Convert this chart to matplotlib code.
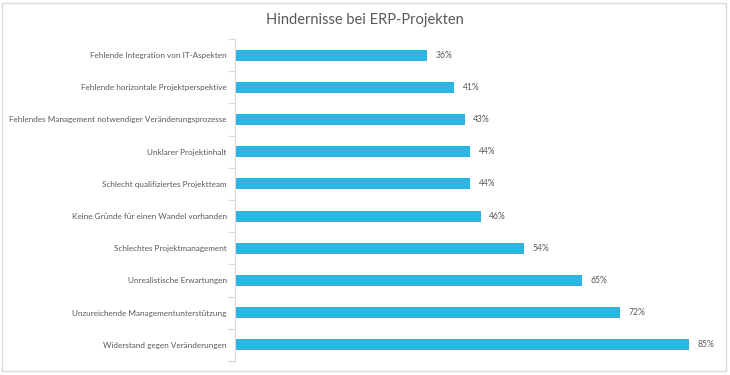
import matplotlib
matplotlib.use('Agg')
import matplotlib.pyplot as plt
import numpy as np
from matplotlib.patches import Rectangle

plt.rcParams['font.family'] = ['Lato', 'DejaVu Sans']

# Data (top to bottom as shown)
labels = [
    'Fehlende Integration von IT-Aspekten',
    'Fehlende horizontale Projektperspektive',
    'Fehlendes Management notwendiger Veränderungsprozesse',
    'Unklarer Projektinhalt',
    'Schlecht qualifiziertes Projektteam',
    'Keine Gründe für einen Wandel vorhanden',
    'Schlechtes Projektmanagement',
    'Unrealistische Erwartungen',
    'Unzureichende Managementunterstützung',
    'Widerstand gegen Veränderungen',
]
values = [36, 41, 43, 44, 44, 46, 54, 65, 72, 85]

bar_color = '#2DB5E2'
text_color = '#595959'
axis_color = '#D9D9D9'

fig = plt.figure(figsize=(7.3, 3.75), dpi=100)
ax = fig.add_axes([235 / 730, 14 / 375, 481 / 730, 322 / 375])

y = np.arange(len(labels))
ax.barh(y, values, height=0.34, color=bar_color)
ax.set_ylim(len(labels) - 0.5, -0.5)
ax.set_xlim(0, 90)

for yi, v in zip(y, values):
    ax.text(v + 1.6, yi, f'{v}%', va='center', ha='left', fontsize=6.2, color=text_color)

ax.set_yticks(y)
ax.set_yticklabels(labels, fontsize=5.9, color=text_color)
ax.set_yticks(np.arange(-0.5, len(labels)), minor=True)
ax.tick_params(axis='y', which='major', length=0, pad=6)
ax.tick_params(axis='y', which='minor', length=5, color=axis_color, width=0.8)
ax.set_xticks([])

for side in ['top', 'right', 'bottom']:
    ax.spines[side].set_visible(False)
ax.spines['left'].set_color(axis_color)
ax.spines['left'].set_linewidth(0.8)

fig.text(0.5, 1 - 20 / 375, 'Hindernisse bei ERP-Projekten', ha='center', va='center',
         fontsize=10.5, color=text_color)

# light frame around the chart
fig.patches.append(Rectangle((2 / 730, 4 / 375), 724 / 730, 368 / 375, transform=fig.transFigure,
                             fill=False, edgecolor=axis_color, linewidth=1))

fig.savefig('out.png', dpi=100)
plt.close(fig)
